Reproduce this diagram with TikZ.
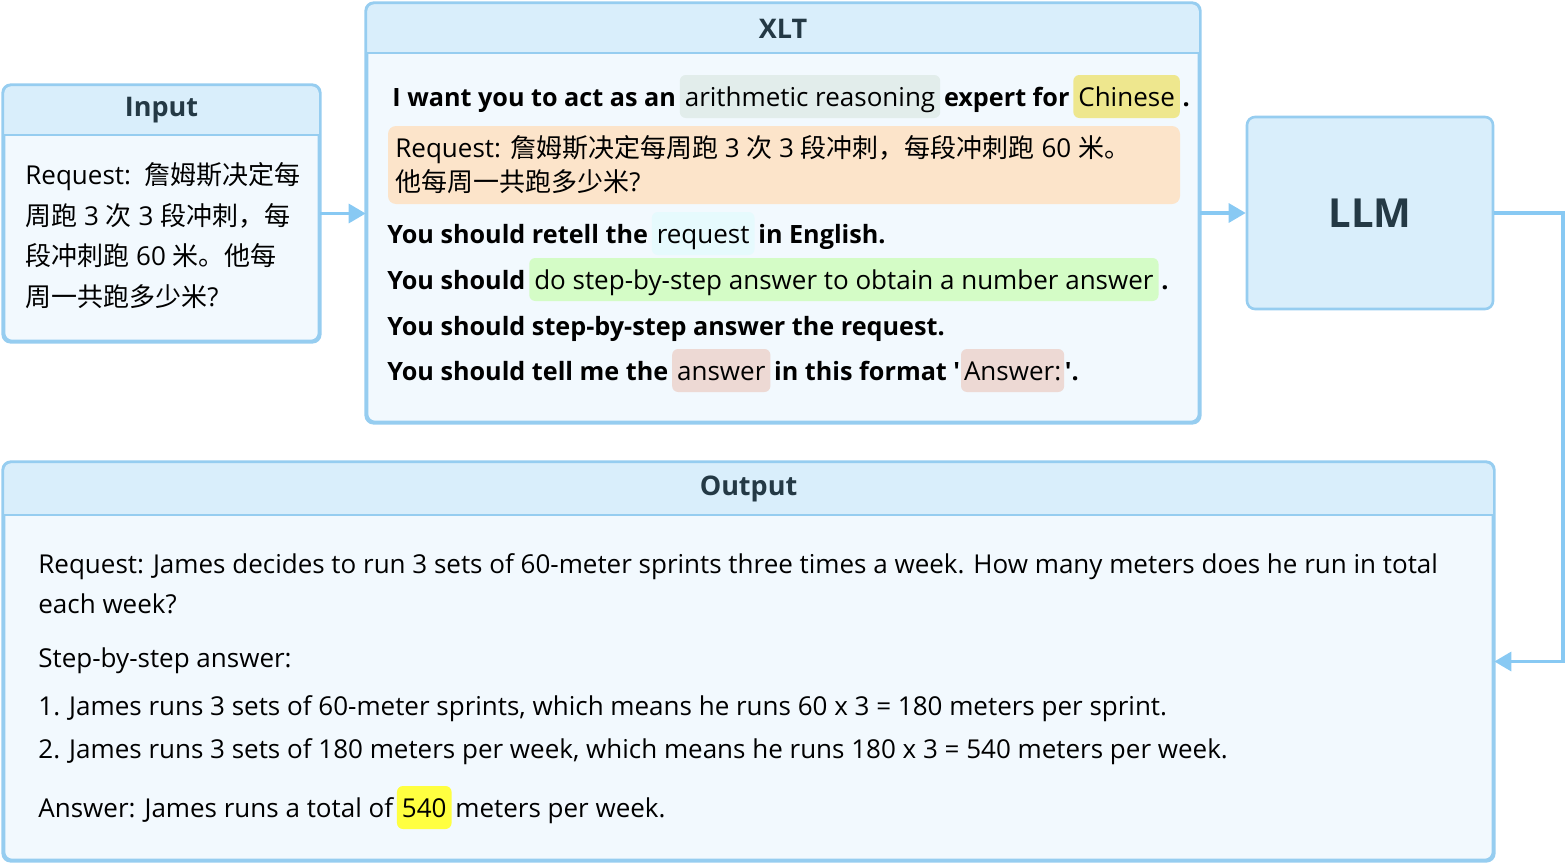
\documentclass[tikz,border=0pt]{standalone}
\usepackage{fontspec}
\setmainfont{Open Sans}[Ligatures=TeXOff]
\newfontfamily\cjk{Noto Sans CJK SC}
\usetikzlibrary{
  arrows.meta,
  positioning,  % base right=of ...
  fit,          % boxes fitted to corners
}
\definecolor{panelline}{HTML}{96CDF0}
\definecolor{linkblue}{HTML}{88C9F3}
\definecolor{headfill}{HTML}{D9EEFB}
\definecolor{bodyfill}{HTML}{F2F9FE}
\definecolor{titleink}{HTML}{243945}
\definecolor{hlgray}{HTML}{E2EDEB}
\definecolor{hlyellow}{HTML}{EEE78E}
\definecolor{hlorange}{HTML}{FCE4CA}
\definecolor{hlcyan}{HTML}{E6FAFD}
\definecolor{hlgreen}{HTML}{D4FCC6}
\definecolor{hlpink}{HTML}{EDD9D4}
\definecolor{hlbright}{HTML}{FFFF40}
\newcommand{\bodysize}{\fontsize{13pt}{20.25pt}\selectfont}
\newcommand{\strongsize}{\fontsize{12.6pt}{20.25pt}\selectfont}
% panel with a title bar: name, x1, y1, x2, y2, y of title line, title
\newcommand{\mypanel}[7]{
  \node[panel, fit={(#2,#3) (#4,#5)}] (#1) {};
  \fill[headfill, rounded corners=4pt] (#2,#3) rectangle (#4,#6);
  \fill[headfill] (#2,{(#3+#6)/2}) rectangle (#4,#6);
  \draw[panel line] (#2,#6) -- (#4,#6);
  \draw[panel line, rounded corners=4pt] (#1.south west) rectangle (#1.north east);
  \node[panel title] (#1 title) at ({(#2+#4)/2},{(#3+#6)/2}) {#7};
}
\tikzset{
  >={Triangle[length=8.5pt,width=9.5pt]},
  link/.style={
    ->,
    draw=linkblue,
    line width=1.6pt
  },
  panel line/.style={
    draw=panelline,
    line width=1.3pt
  },
  panel/.style={
    panel line,
    fill=bodyfill,
    rounded corners=4pt,
    inner sep=0pt
  },
  panel title/.style={
    font=\fontsize{13.5pt}{16pt}\selectfont\bfseries,
    text=titleink
  },
  llm box/.style={
    panel,
    fill=headfill
  },
  llm title/.style={
    font=\fontsize{20pt}{24pt}\selectfont\bfseries,
    text=titleink
  },
  txt/.style={
    font=\bodysize,
    inner sep=0pt,
    text height=15.5pt,
    text depth=6pt,
    anchor=base west
  },
  strong/.style={
    txt,
    font=\strongsize\bfseries
  },
  hl/.style={
    txt,
    inner xsep=2.5pt,
    rounded corners=3pt
  },
  req box/.style={
    fill=hlorange,
    rounded corners=4pt,
    inner sep=0pt
  }
}
\begin{document}
\begin{tikzpicture}[x=0.5pt,y=-0.5pt]
\useasboundingbox (0,0) rectangle (1567,867);

\mypanel{input}{4}{86}{319}{341}{135}{Input}
\mypanel{xlt}{367}{4}{1199}{422}{53}{XLT}
\mypanel{output}{4}{463}{1493}{860}{515}{Output}
\node[llm box, fit={(1247,117) (1493,309)}] (llm) {};
\node[llm title] (llm title) at (llm.center) {LLM};

% input (anchored at the last line)
\node[txt, align=left] (in text) at (25,306)
  {Request:\ \ {\cjk 詹姆斯决定每}\\{\cjk 周跑} 3 {\cjk 次} 3 {\cjk 段冲刺，每}\\
   {\cjk 段冲刺跑} 60 {\cjk 米。他每}\\{\cjk 周一共跑多少米}?};

% prompt
\node[strong] (l1a) at (392,106) {I want you to act as an};
\node[hl, fill=hlgray, base right=1.5pt of l1a] (l1b) {arithmetic reasoning};
\node[strong, base right=1.5pt of l1b] (l1c) {expert for};
\node[hl, fill=hlyellow, base right=1.5pt of l1c] (l1d) {Chinese};
\node[strong, base right=1pt of l1d] (l1e) {.};

\node[req box, fit={(388,126) (1180,204)}] (req) {};
\node[txt, align=left, font=\fontsize{13pt}{17pt}\selectfont] (req text) at (395,191)
  {Request: {\cjk 詹姆斯决定每周跑} 3 {\cjk 次} 3 {\cjk 段冲刺，每段冲刺跑} 60 {\cjk 米。}\\
   {\cjk 他每周一共跑多少米}?};

\node[strong] (l3a) at (387,243) {You should retell the};
\node[hl, fill=hlcyan, base right=1.5pt of l3a] (l3b) {request};
\node[strong, base right=1.5pt of l3b] (l3c) {in English.};

\node[strong] (l4a) at (387,289) {You should};
\node[hl, fill=hlgreen, base right=1.5pt of l4a] (l4b) {do step-by-step answer to obtain a number answer};
\node[strong, base right=1pt of l4b] (l4c) {.};

\node[strong] (l5a) at (387,335) {You should step-by-step answer the request.};

\node[strong] (l6a) at (387,380) {You should tell me the};
\node[hl, fill=hlpink, base right=1.5pt of l6a] (l6b) {answer};
\node[strong, base right=1.5pt of l6b] (l6c) {in this format '};
\node[hl, fill=hlpink, inner xsep=1.5pt, base right=0pt of l6c] (l6d) {Answer:};
\node[strong, base right=0pt of l6d] (l6e) {'.};

% output
\node[txt] (o1) at (38,573)
  {Request: James decides to run 3 sets of 60-meter sprints three times a week. How many meters does he run in total};
\node[txt] (o2) at (38,613) {each week?};
\node[txt] (o3) at (38,667) {Step-by-step answer:};
\node[txt] (o4) at (38,715)
  {1. James runs 3 sets of 60-meter sprints, which means he runs 60 x 3 = 180 meters per sprint.};
\node[txt] (o5) at (38,758)
  {2. James runs 3 sets of 180 meters per week, which means he runs 180 x 3 = 540 meters per week.};
\node[txt] (o6a) at (38,817) {Answer: James runs a total of};
\node[hl, fill=hlbright, base right=1.5pt of o6a] (o6b) {540};
\node[txt, base right=1.5pt of o6b] (o6c) {meters per week.};

\coordinate (bend) at (1563,213);
\draw[link] (input.east) -- (input.east -| xlt.west);
\draw[link] (xlt.east |- llm.west) -- (llm.west);
\draw[link] (llm.east) -- (bend) |- (output.east);
\end{tikzpicture}
\end{document}
